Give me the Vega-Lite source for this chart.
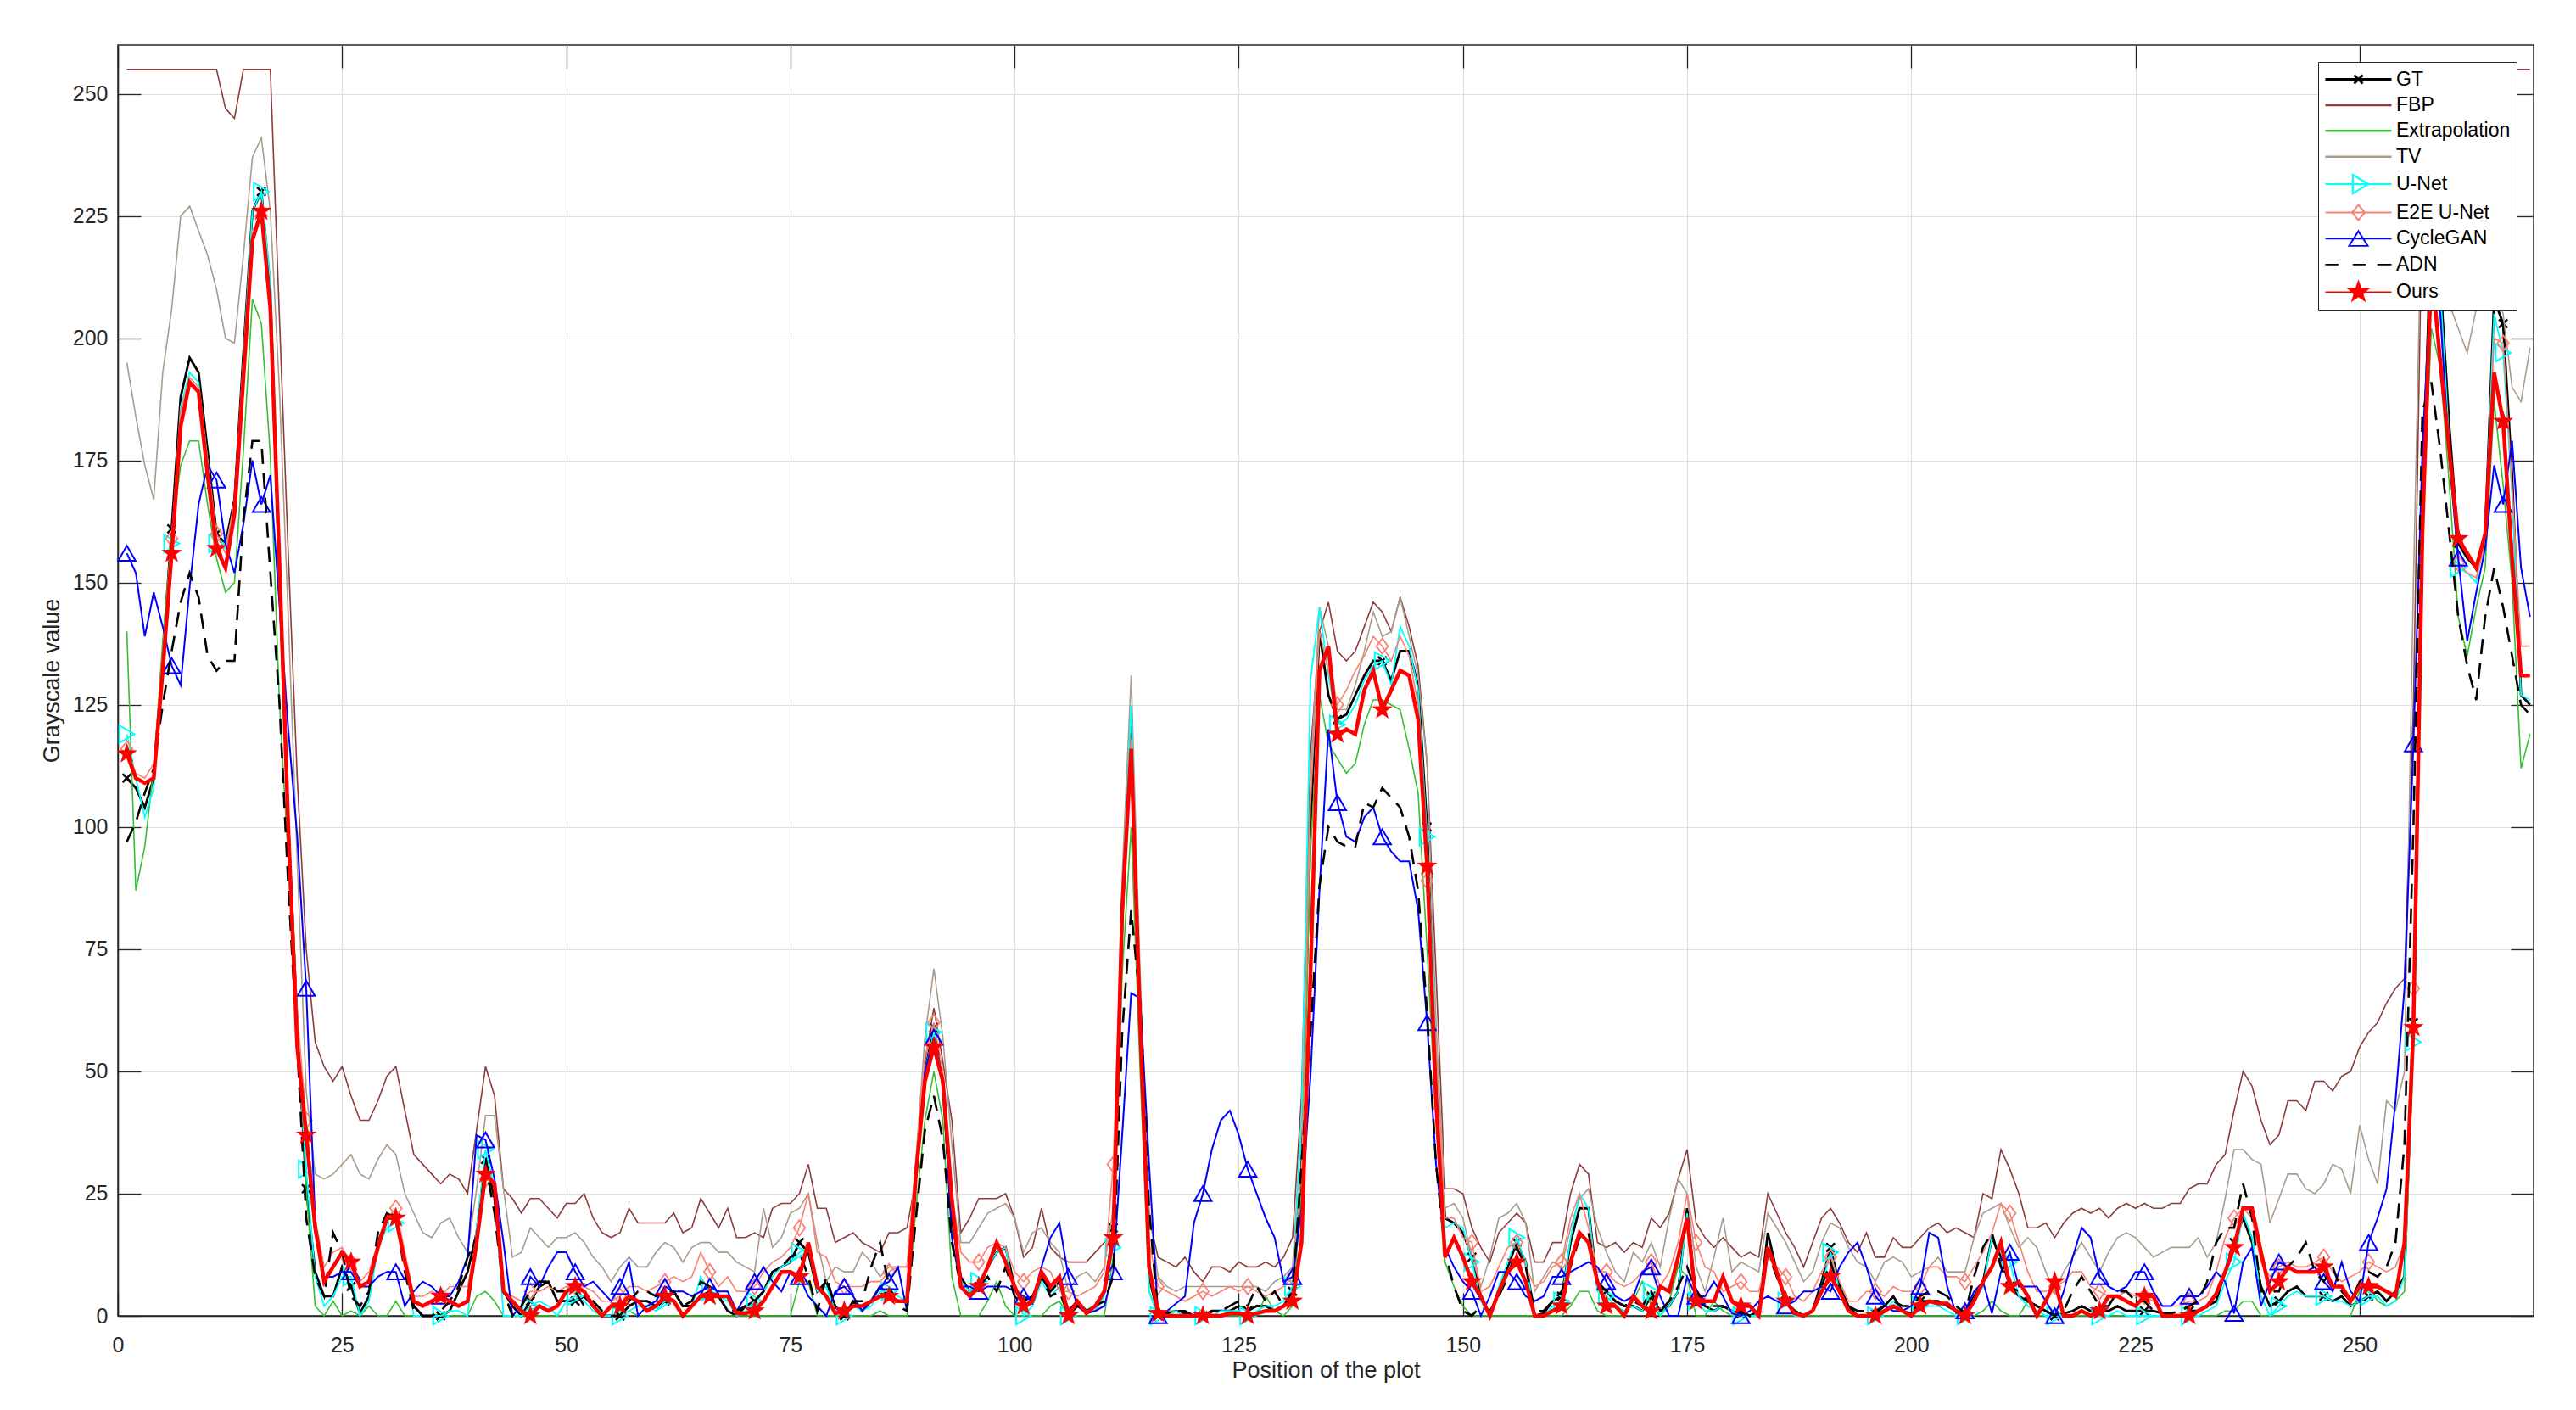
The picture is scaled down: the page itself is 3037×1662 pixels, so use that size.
{
"$schema": "https://vega.github.io/schema/vega-lite/v6.json",
"width": 2848, "height": 1498,
"autosize": {"type": "pad"},
"padding": {"left": 47, "top": 52, "right": 10, "bottom": 10},
"background": "white",
"config": {"view": {"stroke": "#262626", "strokeWidth": 1.5}, "font": "Liberation Sans"},
"data": {"values": [
{"x":1,"GT":110,"FBP":255,"Extrapolation":140,"TV":195,"U-Net":119,"E2E U-Net":116,"CycleGAN":156,"ADN":97,"Ours":115},
{"x":2,"GT":108,"FBP":255,"Extrapolation":87,"TV":184,"U-Net":110,"E2E U-Net":111,"CycleGAN":152,"ADN":101,"Ours":110},
{"x":3,"GT":104,"FBP":255,"Extrapolation":96,"TV":174,"U-Net":102,"E2E U-Net":110,"CycleGAN":139,"ADN":107,"Ours":109},
{"x":4,"GT":110,"FBP":255,"Extrapolation":112,"TV":167,"U-Net":108,"E2E U-Net":113,"CycleGAN":148,"ADN":112,"Ours":110},
{"x":5,"GT":135,"FBP":255,"Extrapolation":138,"TV":193,"U-Net":135,"E2E U-Net":135,"CycleGAN":141,"ADN":125,"Ours":132},
{"x":6,"GT":161,"FBP":255,"Extrapolation":160,"TV":206,"U-Net":158,"E2E U-Net":159,"CycleGAN":133,"ADN":136,"Ours":156},
{"x":7,"GT":188,"FBP":255,"Extrapolation":174,"TV":225,"U-Net":186,"E2E U-Net":185,"CycleGAN":129,"ADN":146,"Ours":182},
{"x":8,"GT":196,"FBP":255,"Extrapolation":179,"TV":227,"U-Net":193,"E2E U-Net":192,"CycleGAN":149,"ADN":152,"Ours":191},
{"x":9,"GT":193,"FBP":255,"Extrapolation":179,"TV":222,"U-Net":191,"E2E U-Net":190,"CycleGAN":166,"ADN":147,"Ours":189},
{"x":10,"GT":177,"FBP":255,"Extrapolation":166,"TV":217,"U-Net":175,"E2E U-Net":175,"CycleGAN":174,"ADN":135,"Ours":172},
{"x":11,"GT":160,"FBP":255,"Extrapolation":155,"TV":210,"U-Net":158,"E2E U-Net":160,"CycleGAN":171,"ADN":132,"Ours":157},
{"x":12,"GT":158,"FBP":247,"Extrapolation":148,"TV":200,"U-Net":157,"E2E U-Net":156,"CycleGAN":158,"ADN":134,"Ours":153},
{"x":13,"GT":167,"FBP":245,"Extrapolation":150,"TV":199,"U-Net":166,"E2E U-Net":167,"CycleGAN":152,"ADN":134,"Ours":164},
{"x":14,"GT":197,"FBP":255,"Extrapolation":177,"TV":217,"U-Net":196,"E2E U-Net":195,"CycleGAN":162,"ADN":163,"Ours":192},
{"x":15,"GT":226,"FBP":255,"Extrapolation":208,"TV":237,"U-Net":226,"E2E U-Net":222,"CycleGAN":175,"ADN":179,"Ours":220},
{"x":16,"GT":230,"FBP":255,"Extrapolation":203,"TV":241,"U-Net":230,"E2E U-Net":225,"CycleGAN":166,"ADN":179,"Ours":226},
{"x":17,"GT":210,"FBP":255,"Extrapolation":176,"TV":226,"U-Net":212,"E2E U-Net":208,"CycleGAN":172,"ADN":152,"Ours":206},
{"x":18,"GT":151,"FBP":205,"Extrapolation":126,"TV":190,"U-Net":152,"E2E U-Net":156,"CycleGAN":146,"ADN":126,"Ours":155},
{"x":19,"GT":101,"FBP":156,"Extrapolation":93,"TV":143,"U-Net":100,"E2E U-Net":103,"CycleGAN":120,"ADN":88,"Ours":100},
{"x":20,"GT":60,"FBP":110,"Extrapolation":60,"TV":93,"U-Net":56,"E2E U-Net":62,"CycleGAN":98,"ADN":55,"Ours":55},
{"x":21,"GT":26,"FBP":75,"Extrapolation":26,"TV":46,"U-Net":30,"E2E U-Net":40,"CycleGAN":67,"ADN":20,"Ours":37},
{"x":22,"GT":9,"FBP":56,"Extrapolation":2,"TV":29,"U-Net":8,"E2E U-Net":20,"CycleGAN":19,"ADN":8,"Ours":18},
{"x":23,"GT":4,"FBP":51,"Extrapolation":0,"TV":28,"U-Net":2,"E2E U-Net":10,"CycleGAN":8,"ADN":4,"Ours":7},
{"x":24,"GT":4,"FBP":48,"Extrapolation":3,"TV":29,"U-Net":4,"E2E U-Net":13,"CycleGAN":8,"ADN":17,"Ours":10},
{"x":25,"GT":10,"FBP":51,"Extrapolation":0,"TV":31,"U-Net":8,"E2E U-Net":14,"CycleGAN":9,"ADN":13,"Ours":13},
{"x":26,"GT":6,"FBP":45,"Extrapolation":1,"TV":33,"U-Net":8,"E2E U-Net":11,"CycleGAN":9,"ADN":4,"Ours":11},
{"x":27,"GT":0.5,"FBP":40,"Extrapolation":0,"TV":29,"U-Net":0,"E2E U-Net":7,"CycleGAN":6,"ADN":2,"Ours":6},
{"x":28,"GT":4,"FBP":40,"Extrapolation":2,"TV":28,"U-Net":3,"E2E U-Net":9,"CycleGAN":6,"ADN":5,"Ours":7},
{"x":29,"GT":15,"FBP":44,"Extrapolation":0,"TV":32,"U-Net":14,"E2E U-Net":15,"CycleGAN":8,"ADN":17,"Ours":14},
{"x":30,"GT":20,"FBP":49,"Extrapolation":0,"TV":35,"U-Net":18,"E2E U-Net":20,"CycleGAN":9,"ADN":21,"Ours":20},
{"x":31,"GT":20,"FBP":51,"Extrapolation":3,"TV":33,"U-Net":19,"E2E U-Net":22,"CycleGAN":9,"ADN":20,"Ours":20},
{"x":32,"GT":12,"FBP":42,"Extrapolation":0,"TV":25,"U-Net":11,"E2E U-Net":13,"CycleGAN":2,"ADN":9,"Ours":11},
{"x":33,"GT":2,"FBP":33,"Extrapolation":0,"TV":21,"U-Net":0,"E2E U-Net":4,"CycleGAN":5,"ADN":1,"Ours":3},
{"x":34,"GT":0,"FBP":31,"Extrapolation":0,"TV":17,"U-Net":0,"E2E U-Net":4,"CycleGAN":7,"ADN":0,"Ours":2},
{"x":35,"GT":0,"FBP":29,"Extrapolation":0,"TV":16,"U-Net":0,"E2E U-Net":5,"CycleGAN":6,"ADN":0,"Ours":3},
{"x":36,"GT":0,"FBP":27,"Extrapolation":0,"TV":19,"U-Net":0,"E2E U-Net":4,"CycleGAN":4,"ADN":1,"Ours":4},
{"x":37,"GT":1,"FBP":29,"Extrapolation":0,"TV":20,"U-Net":1,"E2E U-Net":6,"CycleGAN":4,"ADN":3,"Ours":3},
{"x":38,"GT":5,"FBP":28,"Extrapolation":0,"TV":16,"U-Net":1,"E2E U-Net":6,"CycleGAN":7,"ADN":6,"Ours":2},
{"x":39,"GT":9,"FBP":25,"Extrapolation":0,"TV":13,"U-Net":0,"E2E U-Net":6,"CycleGAN":12,"ADN":12,"Ours":3},
{"x":40,"GT":17,"FBP":38,"Extrapolation":4,"TV":26,"U-Net":18,"E2E U-Net":15,"CycleGAN":37,"ADN":16,"Ours":15},
{"x":41,"GT":32,"FBP":51,"Extrapolation":5,"TV":41,"U-Net":34,"E2E U-Net":28,"CycleGAN":36,"ADN":31,"Ours":29},
{"x":42,"GT":24,"FBP":45,"Extrapolation":3,"TV":41,"U-Net":26,"E2E U-Net":27,"CycleGAN":28,"ADN":21,"Ours":27},
{"x":43,"GT":5,"FBP":26,"Extrapolation":0,"TV":26,"U-Net":0,"E2E U-Net":5,"CycleGAN":15,"ADN":5,"Ours":5},
{"x":44,"GT":2,"FBP":24,"Extrapolation":0,"TV":12,"U-Net":0,"E2E U-Net":4,"CycleGAN":0,"ADN":0,"Ours":3},
{"x":45,"GT":0,"FBP":21,"Extrapolation":0,"TV":13,"U-Net":0,"E2E U-Net":3,"CycleGAN":2,"ADN":2,"Ours":1},
{"x":46,"GT":3,"FBP":24,"Extrapolation":0,"TV":18,"U-Net":2,"E2E U-Net":5,"CycleGAN":8,"ADN":5,"Ours":0},
{"x":47,"GT":6,"FBP":24,"Extrapolation":0,"TV":16,"U-Net":3,"E2E U-Net":5,"CycleGAN":6,"ADN":7,"Ours":2},
{"x":48,"GT":7,"FBP":22,"Extrapolation":0,"TV":14,"U-Net":2,"E2E U-Net":6,"CycleGAN":10,"ADN":7,"Ours":1},
{"x":49,"GT":3,"FBP":20,"Extrapolation":0,"TV":16,"U-Net":0,"E2E U-Net":5,"CycleGAN":13,"ADN":5,"Ours":2},
{"x":50,"GT":3,"FBP":23,"Extrapolation":0,"TV":16,"U-Net":3,"E2E U-Net":6,"CycleGAN":13,"ADN":5,"Ours":5},
{"x":51,"GT":3,"FBP":23,"Extrapolation":0,"TV":17,"U-Net":4,"E2E U-Net":6,"CycleGAN":9,"ADN":5,"Ours":6},
{"x":52,"GT":4,"FBP":25,"Extrapolation":0,"TV":15,"U-Net":3,"E2E U-Net":6,"CycleGAN":6,"ADN":2,"Ours":5},
{"x":53,"GT":2,"FBP":20,"Extrapolation":0,"TV":12,"U-Net":1,"E2E U-Net":5,"CycleGAN":7,"ADN":3,"Ours":2},
{"x":54,"GT":0,"FBP":17,"Extrapolation":0,"TV":10,"U-Net":0,"E2E U-Net":3,"CycleGAN":5,"ADN":1,"Ours":0},
{"x":55,"GT":0,"FBP":16,"Extrapolation":0,"TV":7,"U-Net":0,"E2E U-Net":3,"CycleGAN":3,"ADN":0,"Ours":2},
{"x":56,"GT":0,"FBP":17,"Extrapolation":0,"TV":10,"U-Net":0,"E2E U-Net":4,"CycleGAN":6,"ADN":0,"Ours":2},
{"x":57,"GT":2,"FBP":22,"Extrapolation":1,"TV":12,"U-Net":1,"E2E U-Net":6,"CycleGAN":11,"ADN":3,"Ours":4},
{"x":58,"GT":3,"FBP":19,"Extrapolation":0,"TV":10,"U-Net":2,"E2E U-Net":6,"CycleGAN":0,"ADN":5,"Ours":3},
{"x":59,"GT":3,"FBP":19,"Extrapolation":0,"TV":10,"U-Net":2,"E2E U-Net":5,"CycleGAN":2,"ADN":5,"Ours":1},
{"x":60,"GT":2,"FBP":19,"Extrapolation":0,"TV":13,"U-Net":1,"E2E U-Net":6,"CycleGAN":3,"ADN":4,"Ours":2},
{"x":61,"GT":3,"FBP":19,"Extrapolation":0,"TV":15,"U-Net":3,"E2E U-Net":7,"CycleGAN":6,"ADN":5,"Ours":4},
{"x":62,"GT":5,"FBP":21,"Extrapolation":0,"TV":14,"U-Net":3,"E2E U-Net":8,"CycleGAN":5,"ADN":5,"Ours":3},
{"x":63,"GT":2,"FBP":17,"Extrapolation":0,"TV":11,"U-Net":0,"E2E U-Net":7,"CycleGAN":5,"ADN":2,"Ours":0},
{"x":64,"GT":2,"FBP":18,"Extrapolation":0,"TV":14,"U-Net":2,"E2E U-Net":8,"CycleGAN":4,"ADN":3,"Ours":2},
{"x":65,"GT":4,"FBP":24,"Extrapolation":0,"TV":15,"U-Net":8,"E2E U-Net":13,"CycleGAN":5,"ADN":7,"Ours":4},
{"x":66,"GT":5,"FBP":21,"Extrapolation":0,"TV":15,"U-Net":5,"E2E U-Net":9,"CycleGAN":6,"ADN":6,"Ours":4},
{"x":67,"GT":4,"FBP":18,"Extrapolation":0,"TV":13,"U-Net":4,"E2E U-Net":6,"CycleGAN":5,"ADN":4,"Ours":4},
{"x":68,"GT":1,"FBP":22,"Extrapolation":0,"TV":13,"U-Net":3,"E2E U-Net":8,"CycleGAN":5,"ADN":1,"Ours":4},
{"x":69,"GT":0,"FBP":16,"Extrapolation":0,"TV":11,"U-Net":0,"E2E U-Net":5,"CycleGAN":1,"ADN":1,"Ours":0.5},
{"x":70,"GT":2,"FBP":16,"Extrapolation":0,"TV":10,"U-Net":1,"E2E U-Net":5,"CycleGAN":4,"ADN":2,"Ours":0.5},
{"x":71,"GT":3,"FBP":17,"Extrapolation":0,"TV":9,"U-Net":3,"E2E U-Net":6,"CycleGAN":7,"ADN":3,"Ours":1},
{"x":72,"GT":5,"FBP":16,"Extrapolation":0,"TV":22,"U-Net":5,"E2E U-Net":9,"CycleGAN":10,"ADN":5,"Ours":3},
{"x":73,"GT":9,"FBP":22,"Extrapolation":0,"TV":14,"U-Net":8,"E2E U-Net":11,"CycleGAN":7,"ADN":9,"Ours":6},
{"x":74,"GT":10,"FBP":23,"Extrapolation":0,"TV":16,"U-Net":10,"E2E U-Net":12,"CycleGAN":5,"ADN":10,"Ours":9},
{"x":75,"GT":11,"FBP":23,"Extrapolation":0,"TV":21,"U-Net":11,"E2E U-Net":14,"CycleGAN":9,"ADN":12,"Ours":9},
{"x":76,"GT":15,"FBP":25,"Extrapolation":7,"TV":22,"U-Net":13,"E2E U-Net":18,"CycleGAN":8,"ADN":13,"Ours":8},
{"x":77,"GT":13,"FBP":31,"Extrapolation":7,"TV":25,"U-Net":14,"E2E U-Net":25,"CycleGAN":4,"ADN":8,"Ours":15},
{"x":78,"GT":5,"FBP":22,"Extrapolation":0,"TV":15,"U-Net":5,"E2E U-Net":13,"CycleGAN":2,"ADN":1,"Ours":6},
{"x":79,"GT":7,"FBP":22,"Extrapolation":0,"TV":7,"U-Net":6,"E2E U-Net":12,"CycleGAN":0,"ADN":8,"Ours":4},
{"x":80,"GT":2,"FBP":15,"Extrapolation":0,"TV":10,"U-Net":1,"E2E U-Net":7,"CycleGAN":5,"ADN":2,"Ours":0.5},
{"x":81,"GT":0,"FBP":16,"Extrapolation":0,"TV":9,"U-Net":0,"E2E U-Net":6,"CycleGAN":6,"ADN":0,"Ours":1},
{"x":82,"GT":3,"FBP":17,"Extrapolation":0,"TV":9,"U-Net":2,"E2E U-Net":6,"CycleGAN":4,"ADN":3,"Ours":2},
{"x":83,"GT":1,"FBP":15,"Extrapolation":0,"TV":13,"U-Net":1,"E2E U-Net":6,"CycleGAN":1,"ADN":3,"Ours":2},
{"x":84,"GT":3,"FBP":14,"Extrapolation":0,"TV":11,"U-Net":2,"E2E U-Net":7,"CycleGAN":3,"ADN":10,"Ours":3},
{"x":85,"GT":6,"FBP":13,"Extrapolation":1,"TV":8,"U-Net":5,"E2E U-Net":7,"CycleGAN":6,"ADN":15,"Ours":4},
{"x":86,"GT":4,"FBP":17,"Extrapolation":0,"TV":10,"U-Net":5,"E2E U-Net":9,"CycleGAN":7,"ADN":6,"Ours":4},
{"x":87,"GT":3,"FBP":17,"Extrapolation":0,"TV":10,"U-Net":4,"E2E U-Net":10,"CycleGAN":10,"ADN":2,"Ours":3},
{"x":88,"GT":3,"FBP":18,"Extrapolation":0,"TV":10,"U-Net":3,"E2E U-Net":10,"CycleGAN":1,"ADN":1,"Ours":3},
{"x":89,"GT":30,"FBP":28,"Extrapolation":22,"TV":32,"U-Net":28,"E2E U-Net":32,"CycleGAN":28,"ADN":20,"Ours":29},
{"x":90,"GT":50,"FBP":52,"Extrapolation":40,"TV":57,"U-Net":50,"E2E U-Net":53,"CycleGAN":50,"ADN":38,"Ours":48},
{"x":91,"GT":59,"FBP":63,"Extrapolation":50,"TV":71,"U-Net":58,"E2E U-Net":60,"CycleGAN":57,"ADN":45,"Ours":55},
{"x":92,"GT":47,"FBP":52,"Extrapolation":40,"TV":57,"U-Net":48,"E2E U-Net":50,"CycleGAN":48,"ADN":36,"Ours":48},
{"x":93,"GT":20,"FBP":40,"Extrapolation":8,"TV":35,"U-Net":22,"E2E U-Net":25,"CycleGAN":16,"ADN":15,"Ours":24},
{"x":94,"GT":8,"FBP":17,"Extrapolation":0,"TV":15,"U-Net":7,"E2E U-Net":13,"CycleGAN":6,"ADN":6,"Ours":6},
{"x":95,"GT":5,"FBP":20,"Extrapolation":0,"TV":15,"U-Net":5,"E2E U-Net":11,"CycleGAN":6,"ADN":4,"Ours":4},
{"x":96,"GT":6,"FBP":24,"Extrapolation":0,"TV":18,"U-Net":7,"E2E U-Net":11,"CycleGAN":5,"ADN":6,"Ours":6},
{"x":97,"GT":10,"FBP":24,"Extrapolation":3,"TV":21,"U-Net":10,"E2E U-Net":14,"CycleGAN":6,"ADN":8,"Ours":10},
{"x":98,"GT":13,"FBP":24,"Extrapolation":7,"TV":22,"U-Net":13,"E2E U-Net":15,"CycleGAN":6,"ADN":5,"Ours":15},
{"x":99,"GT":14,"FBP":25,"Extrapolation":2,"TV":23,"U-Net":14,"E2E U-Net":14,"CycleGAN":6,"ADN":10,"Ours":11},
{"x":100,"GT":6,"FBP":20,"Extrapolation":0,"TV":20,"U-Net":4,"E2E U-Net":9,"CycleGAN":5,"ADN":4,"Ours":6},
{"x":101,"GT":3,"FBP":12,"Extrapolation":0,"TV":13,"U-Net":0,"E2E U-Net":7,"CycleGAN":4,"ADN":2,"Ours":2},
{"x":102,"GT":4,"FBP":14,"Extrapolation":0,"TV":17,"U-Net":2,"E2E U-Net":9,"CycleGAN":3,"ADN":3,"Ours":3},
{"x":103,"GT":8,"FBP":22,"Extrapolation":0,"TV":18,"U-Net":7,"E2E U-Net":10,"CycleGAN":10,"ADN":8,"Ours":9},
{"x":104,"GT":5,"FBP":14,"Extrapolation":2,"TV":15,"U-Net":4,"E2E U-Net":9,"CycleGAN":16,"ADN":4,"Ours":6},
{"x":105,"GT":7,"FBP":12,"Extrapolation":3,"TV":13,"U-Net":6,"E2E U-Net":5,"CycleGAN":19,"ADN":5,"Ours":8},
{"x":106,"GT":1,"FBP":11,"Extrapolation":0,"TV":5,"U-Net":0,"E2E U-Net":5,"CycleGAN":8,"ADN":0,"Ours":0},
{"x":107,"GT":3,"FBP":11,"Extrapolation":0,"TV":8,"U-Net":2,"E2E U-Net":4,"CycleGAN":2,"ADN":2,"Ours":3},
{"x":108,"GT":1,"FBP":11,"Extrapolation":0,"TV":9,"U-Net":1,"E2E U-Net":5,"CycleGAN":0.5,"ADN":1,"Ours":0.5},
{"x":109,"GT":2,"FBP":13,"Extrapolation":0,"TV":7,"U-Net":1,"E2E U-Net":6,"CycleGAN":1,"ADN":2,"Ours":2},
{"x":110,"GT":5,"FBP":15,"Extrapolation":0,"TV":10,"U-Net":4,"E2E U-Net":9,"CycleGAN":2,"ADN":3,"Ours":5},
{"x":111,"GT":18,"FBP":17,"Extrapolation":12,"TV":22,"U-Net":14,"E2E U-Net":31,"CycleGAN":9,"ADN":8,"Ours":16},
{"x":112,"GT":80,"FBP":85,"Extrapolation":70,"TV":90,"U-Net":85,"E2E U-Net":85,"CycleGAN":37,"ADN":58,"Ours":83},
{"x":113,"GT":122,"FBP":120,"Extrapolation":100,"TV":131,"U-Net":125,"E2E U-Net":118,"CycleGAN":66,"ADN":83,"Ours":116},
{"x":114,"GT":60,"FBP":65,"Extrapolation":50,"TV":70,"U-Net":60,"E2E U-Net":62,"CycleGAN":65,"ADN":64,"Ours":60},
{"x":115,"GT":8,"FBP":20,"Extrapolation":5,"TV":22,"U-Net":5,"E2E U-Net":15,"CycleGAN":31,"ADN":22,"Ours":10},
{"x":116,"GT":0,"FBP":12,"Extrapolation":0,"TV":8,"U-Net":0,"E2E U-Net":6,"CycleGAN":0,"ADN":0,"Ours":0.5},
{"x":117,"GT":0.5,"FBP":11,"Extrapolation":1,"TV":6,"U-Net":0,"E2E U-Net":5,"CycleGAN":1,"ADN":0,"Ours":0},
{"x":118,"GT":1,"FBP":10,"Extrapolation":1,"TV":5,"U-Net":1,"E2E U-Net":4,"CycleGAN":2.5,"ADN":1,"Ours":0},
{"x":119,"GT":0.5,"FBP":12,"Extrapolation":0,"TV":6,"U-Net":0,"E2E U-Net":3,"CycleGAN":4,"ADN":1,"Ours":0},
{"x":120,"GT":0,"FBP":9,"Extrapolation":0,"TV":6,"U-Net":0,"E2E U-Net":4,"CycleGAN":19,"ADN":0,"Ours":0},
{"x":121,"GT":0,"FBP":7,"Extrapolation":0,"TV":6,"U-Net":0,"E2E U-Net":5,"CycleGAN":25,"ADN":0,"Ours":0},
{"x":122,"GT":1,"FBP":10,"Extrapolation":0,"TV":6,"U-Net":0,"E2E U-Net":4,"CycleGAN":34,"ADN":1,"Ours":0},
{"x":123,"GT":1,"FBP":10,"Extrapolation":0,"TV":6,"U-Net":1,"E2E U-Net":5,"CycleGAN":40,"ADN":1,"Ours":0},
{"x":124,"GT":1,"FBP":9,"Extrapolation":0,"TV":6,"U-Net":1,"E2E U-Net":6,"CycleGAN":42,"ADN":2,"Ours":0.5},
{"x":125,"GT":2,"FBP":11,"Extrapolation":0,"TV":6,"U-Net":1,"E2E U-Net":5,"CycleGAN":37,"ADN":3,"Ours":0.5},
{"x":126,"GT":1,"FBP":10,"Extrapolation":0,"TV":6,"U-Net":0,"E2E U-Net":6,"CycleGAN":30,"ADN":2,"Ours":0},
{"x":127,"GT":2,"FBP":10,"Extrapolation":0,"TV":6,"U-Net":1,"E2E U-Net":5,"CycleGAN":25,"ADN":6,"Ours":0.5},
{"x":128,"GT":2,"FBP":11,"Extrapolation":4,"TV":5,"U-Net":2,"E2E U-Net":4,"CycleGAN":20,"ADN":3,"Ours":1},
{"x":129,"GT":1,"FBP":10,"Extrapolation":1,"TV":7,"U-Net":2,"E2E U-Net":5,"CycleGAN":16,"ADN":5,"Ours":1},
{"x":130,"GT":2,"FBP":12,"Extrapolation":0,"TV":8,"U-Net":3,"E2E U-Net":6,"CycleGAN":7,"ADN":2,"Ours":2},
{"x":131,"GT":5,"FBP":16,"Extrapolation":2,"TV":10,"U-Net":6,"E2E U-Net":8,"CycleGAN":8,"ADN":4,"Ours":3},
{"x":132,"GT":30,"FBP":45,"Extrapolation":25,"TV":40,"U-Net":40,"E2E U-Net":30,"CycleGAN":22,"ADN":31,"Ours":15},
{"x":133,"GT":100,"FBP":115,"Extrapolation":95,"TV":110,"U-Net":130,"E2E U-Net":105,"CycleGAN":49,"ADN":58,"Ours":70},
{"x":134,"GT":140,"FBP":140,"Extrapolation":127,"TV":145,"U-Net":145,"E2E U-Net":140,"CycleGAN":87,"ADN":88,"Ours":132},
{"x":135,"GT":127,"FBP":146,"Extrapolation":117,"TV":137,"U-Net":131,"E2E U-Net":132,"CycleGAN":120,"ADN":100,"Ours":137},
{"x":136,"GT":122,"FBP":136,"Extrapolation":114,"TV":124,"U-Net":121,"E2E U-Net":125,"CycleGAN":105,"ADN":97,"Ours":119},
{"x":137,"GT":123,"FBP":134,"Extrapolation":111,"TV":124,"U-Net":122,"E2E U-Net":128,"CycleGAN":98,"ADN":96,"Ours":120},
{"x":138,"GT":127,"FBP":136,"Extrapolation":113,"TV":129,"U-Net":125,"E2E U-Net":132,"CycleGAN":97,"ADN":96,"Ours":119},
{"x":139,"GT":131,"FBP":141,"Extrapolation":121,"TV":136,"U-Net":130,"E2E U-Net":135,"CycleGAN":102,"ADN":105,"Ours":128},
{"x":140,"GT":134,"FBP":146,"Extrapolation":126,"TV":144,"U-Net":133,"E2E U-Net":139,"CycleGAN":104,"ADN":104,"Ours":132},
{"x":141,"GT":134,"FBP":144,"Extrapolation":126,"TV":139,"U-Net":134,"E2E U-Net":137,"CycleGAN":98,"ADN":108,"Ours":124},
{"x":142,"GT":130,"FBP":140,"Extrapolation":125,"TV":140,"U-Net":129,"E2E U-Net":134,"CycleGAN":95,"ADN":106,"Ours":128},
{"x":143,"GT":136,"FBP":147,"Extrapolation":124,"TV":147,"U-Net":141,"E2E U-Net":139,"CycleGAN":93,"ADN":104,"Ours":132},
{"x":144,"GT":136,"FBP":141,"Extrapolation":116,"TV":139,"U-Net":137,"E2E U-Net":135,"CycleGAN":93,"ADN":98,"Ours":131},
{"x":145,"GT":129,"FBP":133,"Extrapolation":107,"TV":131,"U-Net":128,"E2E U-Net":125,"CycleGAN":83,"ADN":87,"Ours":122},
{"x":146,"GT":100,"FBP":113,"Extrapolation":75,"TV":113,"U-Net":98,"E2E U-Net":89,"CycleGAN":60,"ADN":62,"Ours":92},
{"x":147,"GT":50,"FBP":70,"Extrapolation":40,"TV":60,"U-Net":55,"E2E U-Net":55,"CycleGAN":31,"ADN":31,"Ours":44},
{"x":148,"GT":20,"FBP":26,"Extrapolation":11,"TV":22,"U-Net":18,"E2E U-Net":20,"CycleGAN":14,"ADN":13,"Ours":12},
{"x":149,"GT":19,"FBP":26,"Extrapolation":6,"TV":23,"U-Net":19,"E2E U-Net":20,"CycleGAN":10,"ADN":6,"Ours":16},
{"x":150,"GT":17,"FBP":25,"Extrapolation":2,"TV":20,"U-Net":18,"E2E U-Net":16,"CycleGAN":7,"ADN":1,"Ours":12},
{"x":151,"GT":12,"FBP":18,"Extrapolation":0,"TV":12,"U-Net":11,"E2E U-Net":15,"CycleGAN":5,"ADN":0,"Ours":7},
{"x":152,"GT":4,"FBP":14,"Extrapolation":0,"TV":6,"U-Net":3,"E2E U-Net":5,"CycleGAN":0,"ADN":2,"Ours":4},
{"x":153,"GT":0,"FBP":11,"Extrapolation":0,"TV":12,"U-Net":0,"E2E U-Net":6,"CycleGAN":4,"ADN":1,"Ours":0},
{"x":154,"GT":5,"FBP":17,"Extrapolation":0,"TV":20,"U-Net":6,"E2E U-Net":10,"CycleGAN":9,"ADN":4,"Ours":5},
{"x":155,"GT":10,"FBP":19,"Extrapolation":0,"TV":21,"U-Net":11,"E2E U-Net":14,"CycleGAN":9,"ADN":8,"Ours":9},
{"x":156,"GT":15,"FBP":21,"Extrapolation":0,"TV":23,"U-Net":16,"E2E U-Net":15,"CycleGAN":7,"ADN":14,"Ours":11},
{"x":157,"GT":11,"FBP":19,"Extrapolation":0,"TV":19,"U-Net":11,"E2E U-Net":10,"CycleGAN":4,"ADN":10,"Ours":7},
{"x":158,"GT":0,"FBP":11,"Extrapolation":0,"TV":5,"U-Net":0,"E2E U-Net":6,"CycleGAN":3,"ADN":1,"Ours":0},
{"x":159,"GT":0.5,"FBP":11,"Extrapolation":0,"TV":8,"U-Net":0,"E2E U-Net":7,"CycleGAN":4,"ADN":1,"Ours":0},
{"x":160,"GT":3,"FBP":15,"Extrapolation":0,"TV":11,"U-Net":2,"E2E U-Net":10,"CycleGAN":8,"ADN":3,"Ours":1},
{"x":161,"GT":4,"FBP":15,"Extrapolation":0,"TV":10,"U-Net":3,"E2E U-Net":11,"CycleGAN":8,"ADN":5,"Ours":2},
{"x":162,"GT":15,"FBP":25,"Extrapolation":2,"TV":18,"U-Net":16,"E2E U-Net":20,"CycleGAN":9,"ADN":10,"Ours":11},
{"x":163,"GT":22,"FBP":31,"Extrapolation":5,"TV":24,"U-Net":25,"E2E U-Net":25,"CycleGAN":10,"ADN":16,"Ours":17},
{"x":164,"GT":22,"FBP":29,"Extrapolation":5,"TV":26,"U-Net":22,"E2E U-Net":18,"CycleGAN":11,"ADN":17,"Ours":15},
{"x":165,"GT":6,"FBP":15,"Extrapolation":1,"TV":18,"U-Net":5,"E2E U-Net":9,"CycleGAN":10,"ADN":7,"Ours":7},
{"x":166,"GT":5,"FBP":14,"Extrapolation":0,"TV":13,"U-Net":4,"E2E U-Net":9,"CycleGAN":7,"ADN":5,"Ours":2},
{"x":167,"GT":3,"FBP":15,"Extrapolation":0,"TV":9,"U-Net":2,"E2E U-Net":7,"CycleGAN":4,"ADN":3,"Ours":2},
{"x":168,"GT":2,"FBP":13,"Extrapolation":0,"TV":7,"U-Net":1,"E2E U-Net":6,"CycleGAN":3,"ADN":2,"Ours":0},
{"x":169,"GT":2,"FBP":15,"Extrapolation":3,"TV":13,"U-Net":2,"E2E U-Net":7,"CycleGAN":4,"ADN":3,"Ours":4},
{"x":170,"GT":1,"FBP":14,"Extrapolation":7,"TV":11,"U-Net":1,"E2E U-Net":9,"CycleGAN":9,"ADN":2,"Ours":2},
{"x":171,"GT":4,"FBP":20,"Extrapolation":2,"TV":15,"U-Net":5,"E2E U-Net":11,"CycleGAN":10,"ADN":5,"Ours":1},
{"x":172,"GT":1,"FBP":18,"Extrapolation":0,"TV":10,"U-Net":0,"E2E U-Net":6,"CycleGAN":4,"ADN":1,"Ours":6},
{"x":173,"GT":2,"FBP":21,"Extrapolation":3,"TV":20,"U-Net":2,"E2E U-Net":9,"CycleGAN":0,"ADN":3,"Ours":5},
{"x":174,"GT":5,"FBP":28,"Extrapolation":10,"TV":28,"U-Net":5,"E2E U-Net":15,"CycleGAN":0,"ADN":6,"Ours":12},
{"x":175,"GT":22,"FBP":34,"Extrapolation":8,"TV":25,"U-Net":21,"E2E U-Net":25,"CycleGAN":8,"ADN":10,"Ours":20},
{"x":176,"GT":3,"FBP":19,"Extrapolation":0,"TV":10,"U-Net":3,"E2E U-Net":15,"CycleGAN":4,"ADN":5,"Ours":3},
{"x":177,"GT":2,"FBP":16,"Extrapolation":0,"TV":5,"U-Net":1,"E2E U-Net":10,"CycleGAN":4,"ADN":3,"Ours":3},
{"x":178,"GT":1,"FBP":14,"Extrapolation":3,"TV":12,"U-Net":1,"E2E U-Net":9,"CycleGAN":7,"ADN":2,"Ours":3},
{"x":179,"GT":2,"FBP":16,"Extrapolation":1,"TV":20,"U-Net":2,"E2E U-Net":5,"CycleGAN":4,"ADN":2,"Ours":8},
{"x":180,"GT":1,"FBP":14,"Extrapolation":0,"TV":9,"U-Net":1,"E2E U-Net":6,"CycleGAN":0.5,"ADN":1,"Ours":3},
{"x":181,"GT":0.5,"FBP":12,"Extrapolation":0,"TV":11,"U-Net":0,"E2E U-Net":7,"CycleGAN":0,"ADN":1,"Ours":2},
{"x":182,"GT":0,"FBP":13,"Extrapolation":0,"TV":10,"U-Net":0,"E2E U-Net":5,"CycleGAN":1,"ADN":0,"Ours":2},
{"x":183,"GT":1,"FBP":12,"Extrapolation":0,"TV":9,"U-Net":0,"E2E U-Net":5,"CycleGAN":3,"ADN":1,"Ours":0},
{"x":184,"GT":17,"FBP":25,"Extrapolation":0,"TV":21,"U-Net":14,"E2E U-Net":12,"CycleGAN":4,"ADN":13,"Ours":14},
{"x":185,"GT":9,"FBP":21,"Extrapolation":0,"TV":18,"U-Net":8,"E2E U-Net":10,"CycleGAN":3,"ADN":8,"Ours":9},
{"x":186,"GT":3,"FBP":17,"Extrapolation":0,"TV":15,"U-Net":3,"E2E U-Net":8,"CycleGAN":2,"ADN":3,"Ours":3},
{"x":187,"GT":1,"FBP":14,"Extrapolation":0,"TV":11,"U-Net":0,"E2E U-Net":4,"CycleGAN":3,"ADN":1,"Ours":0.5},
{"x":188,"GT":0,"FBP":10,"Extrapolation":0,"TV":7,"U-Net":0,"E2E U-Net":3,"CycleGAN":5,"ADN":0,"Ours":0},
{"x":189,"GT":1,"FBP":15,"Extrapolation":0,"TV":9,"U-Net":1,"E2E U-Net":5,"CycleGAN":5,"ADN":1,"Ours":1},
{"x":190,"GT":7,"FBP":20,"Extrapolation":0,"TV":15,"U-Net":6,"E2E U-Net":9,"CycleGAN":6,"ADN":6,"Ours":5},
{"x":191,"GT":14,"FBP":22,"Extrapolation":0,"TV":19,"U-Net":13,"E2E U-Net":12,"CycleGAN":5,"ADN":11,"Ours":8},
{"x":192,"GT":6,"FBP":19,"Extrapolation":0,"TV":18,"U-Net":5,"E2E U-Net":7,"CycleGAN":10,"ADN":5,"Ours":5},
{"x":193,"GT":2,"FBP":15,"Extrapolation":0,"TV":14,"U-Net":1,"E2E U-Net":3,"CycleGAN":13,"ADN":2,"Ours":1},
{"x":194,"GT":0,"FBP":13,"Extrapolation":0,"TV":11,"U-Net":0,"E2E U-Net":3,"CycleGAN":15,"ADN":1,"Ours":0},
{"x":195,"GT":0,"FBP":17,"Extrapolation":0,"TV":10,"U-Net":0,"E2E U-Net":5,"CycleGAN":10,"ADN":1,"Ours":0},
{"x":196,"GT":0.5,"FBP":12,"Extrapolation":0,"TV":7,"U-Net":0,"E2E U-Net":5,"CycleGAN":4,"ADN":1,"Ours":0},
{"x":197,"GT":2,"FBP":12,"Extrapolation":0,"TV":11,"U-Net":1,"E2E U-Net":4,"CycleGAN":2,"ADN":2,"Ours":1},
{"x":198,"GT":4,"FBP":16,"Extrapolation":0,"TV":12,"U-Net":3,"E2E U-Net":6,"CycleGAN":1,"ADN":3,"Ours":2},
{"x":199,"GT":1,"FBP":14,"Extrapolation":0,"TV":11,"U-Net":1,"E2E U-Net":5,"CycleGAN":1,"ADN":2,"Ours":1},
{"x":200,"GT":0.5,"FBP":14,"Extrapolation":0,"TV":8,"U-Net":0,"E2E U-Net":5,"CycleGAN":2,"ADN":2,"Ours":0},
{"x":201,"GT":3,"FBP":16,"Extrapolation":0,"TV":9,"U-Net":2,"E2E U-Net":6,"CycleGAN":6,"ADN":4,"Ours":2},
{"x":202,"GT":3,"FBP":18,"Extrapolation":0,"TV":10,"U-Net":2,"E2E U-Net":10,"CycleGAN":17,"ADN":5,"Ours":3},
{"x":203,"GT":3,"FBP":19,"Extrapolation":0,"TV":12,"U-Net":2,"E2E U-Net":10,"CycleGAN":16,"ADN":5,"Ours":2.5},
{"x":204,"GT":2,"FBP":17,"Extrapolation":0,"TV":9,"U-Net":1,"E2E U-Net":8,"CycleGAN":6,"ADN":4,"Ours":2.5},
{"x":205,"GT":1,"FBP":18,"Extrapolation":0,"TV":9,"U-Net":0,"E2E U-Net":8,"CycleGAN":0.5,"ADN":2,"Ours":1},
{"x":206,"GT":0.5,"FBP":17,"Extrapolation":0,"TV":9,"U-Net":0,"E2E U-Net":7,"CycleGAN":1,"ADN":0.5,"Ours":0},
{"x":207,"GT":4,"FBP":16,"Extrapolation":0,"TV":16,"U-Net":3,"E2E U-Net":10,"CycleGAN":5,"ADN":8,"Ours":3},
{"x":208,"GT":7,"FBP":25,"Extrapolation":1,"TV":21,"U-Net":6,"E2E U-Net":13,"CycleGAN":7,"ADN":14,"Ours":7},
{"x":209,"GT":16,"FBP":24,"Extrapolation":3,"TV":22,"U-Net":16,"E2E U-Net":17,"CycleGAN":0.5,"ADN":17,"Ours":10},
{"x":210,"GT":12,"FBP":34,"Extrapolation":1,"TV":23,"U-Net":13,"E2E U-Net":23,"CycleGAN":9,"ADN":10,"Ours":15},
{"x":211,"GT":6,"FBP":30,"Extrapolation":0,"TV":18,"U-Net":11,"E2E U-Net":21,"CycleGAN":13,"ADN":6,"Ours":6},
{"x":212,"GT":4,"FBP":25,"Extrapolation":0,"TV":14,"U-Net":4,"E2E U-Net":15,"CycleGAN":6,"ADN":5,"Ours":7},
{"x":213,"GT":3,"FBP":18,"Extrapolation":3,"TV":16,"U-Net":2,"E2E U-Net":9,"CycleGAN":6,"ADN":3,"Ours":4},
{"x":214,"GT":2,"FBP":18,"Extrapolation":0,"TV":14,"U-Net":1,"E2E U-Net":5,"CycleGAN":6,"ADN":2,"Ours":0},
{"x":215,"GT":1,"FBP":19,"Extrapolation":0,"TV":9,"U-Net":0,"E2E U-Net":5,"CycleGAN":3,"ADN":1,"Ours":3},
{"x":216,"GT":0,"FBP":16,"Extrapolation":0,"TV":5,"U-Net":0,"E2E U-Net":6,"CycleGAN":0,"ADN":0,"Ours":7},
{"x":217,"GT":0.5,"FBP":19,"Extrapolation":0,"TV":9,"U-Net":0,"E2E U-Net":7,"CycleGAN":5,"ADN":1,"Ours":0},
{"x":218,"GT":1,"FBP":21,"Extrapolation":0,"TV":12,"U-Net":0,"E2E U-Net":9,"CycleGAN":12,"ADN":5,"Ours":0},
{"x":219,"GT":2,"FBP":22,"Extrapolation":0,"TV":15,"U-Net":1,"E2E U-Net":9,"CycleGAN":18,"ADN":8,"Ours":1},
{"x":220,"GT":1,"FBP":21,"Extrapolation":0,"TV":12,"U-Net":0,"E2E U-Net":6,"CycleGAN":16,"ADN":5,"Ours":0},
{"x":221,"GT":1,"FBP":22,"Extrapolation":0,"TV":9,"U-Net":0,"E2E U-Net":5,"CycleGAN":8,"ADN":2,"Ours":1},
{"x":222,"GT":1,"FBP":20,"Extrapolation":0,"TV":13,"U-Net":0,"E2E U-Net":4,"CycleGAN":6,"ADN":2,"Ours":4},
{"x":223,"GT":2,"FBP":22,"Extrapolation":0,"TV":16,"U-Net":1,"E2E U-Net":4,"CycleGAN":5,"ADN":5,"Ours":4},
{"x":224,"GT":1,"FBP":23,"Extrapolation":0,"TV":17,"U-Net":0,"E2E U-Net":5,"CycleGAN":6,"ADN":5,"Ours":3},
{"x":225,"GT":1,"FBP":22,"Extrapolation":0,"TV":16,"U-Net":0,"E2E U-Net":4,"CycleGAN":9,"ADN":3,"Ours":2},
{"x":226,"GT":1,"FBP":23,"Extrapolation":0,"TV":14,"U-Net":0,"E2E U-Net":4,"CycleGAN":9,"ADN":3,"Ours":4},
{"x":227,"GT":1,"FBP":22,"Extrapolation":0,"TV":12,"U-Net":0,"E2E U-Net":3,"CycleGAN":5,"ADN":1,"Ours":4},
{"x":228,"GT":0.5,"FBP":22,"Extrapolation":0,"TV":13,"U-Net":0,"E2E U-Net":2,"CycleGAN":2,"ADN":0.5,"Ours":0},
{"x":229,"GT":0,"FBP":23,"Extrapolation":0,"TV":14,"U-Net":0,"E2E U-Net":2,"CycleGAN":2,"ADN":0.5,"Ours":0},
{"x":230,"GT":0,"FBP":23,"Extrapolation":0,"TV":14,"U-Net":0,"E2E U-Net":2,"CycleGAN":4,"ADN":1,"Ours":0},
{"x":231,"GT":1,"FBP":26,"Extrapolation":0,"TV":14,"U-Net":0,"E2E U-Net":3,"CycleGAN":4,"ADN":2,"Ours":0},
{"x":232,"GT":1,"FBP":27,"Extrapolation":0,"TV":16,"U-Net":0,"E2E U-Net":3,"CycleGAN":4,"ADN":3,"Ours":1},
{"x":233,"GT":2,"FBP":27,"Extrapolation":0,"TV":12,"U-Net":1,"E2E U-Net":4,"CycleGAN":6,"ADN":7,"Ours":2},
{"x":234,"GT":3,"FBP":31,"Extrapolation":0,"TV":15,"U-Net":2,"E2E U-Net":9,"CycleGAN":9,"ADN":15,"Ours":4.5},
{"x":235,"GT":9,"FBP":33,"Extrapolation":1,"TV":24,"U-Net":7,"E2E U-Net":16,"CycleGAN":7,"ADN":18,"Ours":9},
{"x":236,"GT":15,"FBP":42,"Extrapolation":1,"TV":34,"U-Net":11,"E2E U-Net":20,"CycleGAN":0.5,"ADN":18,"Ours":14},
{"x":237,"GT":20,"FBP":50,"Extrapolation":3,"TV":34,"U-Net":21,"E2E U-Net":22,"CycleGAN":11,"ADN":27,"Ours":22},
{"x":238,"GT":15,"FBP":47,"Extrapolation":3,"TV":32,"U-Net":16,"E2E U-Net":20,"CycleGAN":14,"ADN":20,"Ours":22},
{"x":239,"GT":6,"FBP":40,"Extrapolation":0,"TV":31,"U-Net":4,"E2E U-Net":11,"CycleGAN":2,"ADN":5,"Ours":13},
{"x":240,"GT":2,"FBP":35,"Extrapolation":0,"TV":19,"U-Net":0,"E2E U-Net":8,"CycleGAN":7,"ADN":5,"Ours":5},
{"x":241,"GT":3,"FBP":37,"Extrapolation":0,"TV":24,"U-Net":2,"E2E U-Net":10,"CycleGAN":11,"ADN":5,"Ours":7},
{"x":242,"GT":5,"FBP":44,"Extrapolation":0,"TV":29,"U-Net":4,"E2E U-Net":11,"CycleGAN":10,"ADN":10,"Ours":10},
{"x":243,"GT":6,"FBP":44,"Extrapolation":0,"TV":29,"U-Net":5,"E2E U-Net":10,"CycleGAN":9,"ADN":12,"Ours":9},
{"x":244,"GT":4,"FBP":42,"Extrapolation":0,"TV":26,"U-Net":4,"E2E U-Net":10,"CycleGAN":9,"ADN":15,"Ours":9},
{"x":245,"GT":4,"FBP":48,"Extrapolation":0,"TV":25,"U-Net":4,"E2E U-Net":11,"CycleGAN":10,"ADN":9,"Ours":9},
{"x":246,"GT":4,"FBP":48,"Extrapolation":0,"TV":27,"U-Net":4,"E2E U-Net":12,"CycleGAN":7,"ADN":7,"Ours":10},
{"x":247,"GT":3,"FBP":46,"Extrapolation":0,"TV":31,"U-Net":3,"E2E U-Net":9,"CycleGAN":5,"ADN":10,"Ours":6},
{"x":248,"GT":4,"FBP":49,"Extrapolation":0,"TV":30,"U-Net":3,"E2E U-Net":7,"CycleGAN":11,"ADN":5,"Ours":6},
{"x":249,"GT":2,"FBP":50,"Extrapolation":0,"TV":25,"U-Net":2,"E2E U-Net":8,"CycleGAN":5,"ADN":3,"Ours":3},
{"x":250,"GT":3,"FBP":55,"Extrapolation":5,"TV":39,"U-Net":3,"E2E U-Net":9,"CycleGAN":3,"ADN":7,"Ours":6},
{"x":251,"GT":4,"FBP":58,"Extrapolation":6,"TV":32,"U-Net":4,"E2E U-Net":11,"CycleGAN":15,"ADN":9,"Ours":6},
{"x":252,"GT":5,"FBP":60,"Extrapolation":3,"TV":27,"U-Net":4,"E2E U-Net":10,"CycleGAN":20,"ADN":8,"Ours":6},
{"x":253,"GT":3,"FBP":64,"Extrapolation":2,"TV":44,"U-Net":2,"E2E U-Net":9,"CycleGAN":26,"ADN":10,"Ours":5},
{"x":254,"GT":5,"FBP":67,"Extrapolation":3,"TV":42,"U-Net":3,"E2E U-Net":10,"CycleGAN":44,"ADN":15,"Ours":4},
{"x":255,"GT":8,"FBP":69,"Extrapolation":5,"TV":50,"U-Net":8,"E2E U-Net":15,"CycleGAN":67,"ADN":35,"Ours":15},
{"x":256,"GT":60,"FBP":125,"Extrapolation":55,"TV":150,"U-Net":56,"E2E U-Net":67,"CycleGAN":117,"ADN":100,"Ours":59},
{"x":257,"GT":165,"FBP":230,"Extrapolation":160,"TV":235,"U-Net":160,"E2E U-Net":165,"CycleGAN":177,"ADN":185,"Ours":160},
{"x":258,"GT":225,"FBP":255,"Extrapolation":202,"TV":245,"U-Net":222,"E2E U-Net":220,"CycleGAN":215,"ADN":191,"Ours":215},
{"x":259,"GT":212,"FBP":255,"Extrapolation":194,"TV":225,"U-Net":210,"E2E U-Net":205,"CycleGAN":205,"ADN":177,"Ours":195},
{"x":260,"GT":182,"FBP":255,"Extrapolation":170,"TV":207,"U-Net":178,"E2E U-Net":175,"CycleGAN":175,"ADN":160,"Ours":177},
{"x":261,"GT":158,"FBP":255,"Extrapolation":143,"TV":202,"U-Net":153,"E2E U-Net":154,"CycleGAN":155,"ADN":143,"Ours":159},
{"x":262,"GT":155,"FBP":255,"Extrapolation":135,"TV":197,"U-Net":152,"E2E U-Net":152,"CycleGAN":138,"ADN":133,"Ours":156},
{"x":263,"GT":153,"FBP":255,"Extrapolation":145,"TV":206,"U-Net":150,"E2E U-Net":151,"CycleGAN":148,"ADN":126,"Ours":153},
{"x":264,"GT":160,"FBP":255,"Extrapolation":153,"TV":215,"U-Net":160,"E2E U-Net":158,"CycleGAN":157,"ADN":143,"Ours":160},
{"x":265,"GT":208,"FBP":255,"Extrapolation":187,"TV":215,"U-Net":205,"E2E U-Net":200,"CycleGAN":174,"ADN":153,"Ours":193},
{"x":266,"GT":203,"FBP":255,"Extrapolation":170,"TV":205,"U-Net":197,"E2E U-Net":199,"CycleGAN":166,"ADN":145,"Ours":183},
{"x":267,"GT":172,"FBP":255,"Extrapolation":150,"TV":190,"U-Net":168,"E2E U-Net":170,"CycleGAN":179,"ADN":135,"Ours":155},
{"x":268,"GT":127,"FBP":255,"Extrapolation":112,"TV":187,"U-Net":127,"E2E U-Net":137,"CycleGAN":153,"ADN":125,"Ours":131},
{"x":269,"GT":125,"FBP":255,"Extrapolation":119,"TV":198,"U-Net":126,"E2E U-Net":137,"CycleGAN":143,"ADN":123,"Ours":131}
]},
"transform": [{"fold": ["GT","FBP","Extrapolation","TV","U-Net","E2E U-Net","CycleGAN","ADN","Ours"], "as": ["series","value"]}],
"encoding": {
 "x": {"field": "x", "type": "quantitative", "scale": {"domain": [0, 269.4], "nice": false, "zero": false}, "axis": null},
 "y": {"field": "value", "type": "quantitative", "scale": {"domain": [0, 260], "nice": false}, "axis": null}
},
"layer": [
{"transform": [{"filter": "datum.series == 'GT'"}], "mark": {"type": "line", "color": "#000000", "strokeWidth": 2.8},
 "encoding": {
 "x": {"field": "x", "type": "quantitative", "scale": {"domain": [0, 269.4], "nice": false, "zero": false},
  "axis": {"orient": "bottom", "values": [0,25,50,75,100,125,150,175,200,225,250], "tickSize": -27, "tickWidth": 1.3, "tickColor": "#262626", "domainColor": "#262626", "domainWidth": 1.5, "grid": true, "gridColor": "#dfdfdf", "gridWidth": 1.2, "labelFont": "Liberation Sans", "labelFontSize": 25, "labelColor": "#262626", "labelPadding": 49, "labelFlush": false, "labelOverlap": false, "title": "Position of the plot", "titleFont": "Liberation Sans", "titleFontSize": 27, "titleFontWeight": "normal", "titleColor": "#262626", "titleX": 1424, "titleY": 64, "titleBaseline": "middle", "titleAlign": "center"}},
 "y": {"field": "value", "type": "quantitative", "scale": {"domain": [0, 260], "nice": false},
  "axis": {"orient": "left", "values": [0,25,50,75,100,125,150,175,200,225,250], "tickSize": -27, "tickWidth": 1.3, "tickColor": "#262626", "domainColor": "#262626", "domainWidth": 1.5, "grid": true, "gridColor": "#dfdfdf", "gridWidth": 1.2, "labelFont": "Liberation Sans", "labelFontSize": 25, "labelColor": "#262626", "labelPadding": 39, "labelOverlap": false, "title": "Grayscale value", "titleFont": "Liberation Sans", "titleFontSize": 27, "titleFontWeight": "normal", "titleColor": "#262626", "titleX": -78, "titleY": 749, "titleAngle": -90, "titleBaseline": "middle", "titleAlign": "center"}}
 }},
{"transform": [{"filter": "datum.series == 'GT' && (datum.x - 1) % 5 == 0"}], "mark": {"type": "point", "shape": "M-1,-1L1,1M-1,1L1,-1", "size": 100, "filled": false, "color": "#000000", "strokeWidth": 2.5, "opacity": 1}},
{"transform": [{"filter": "datum.series == 'FBP'"}], "mark": {"type": "line", "color": "#8c3c3c", "strokeWidth": 1.6}},
{"transform": [{"filter": "datum.series == 'Extrapolation'"}], "mark": {"type": "line", "color": "#33c033", "strokeWidth": 1.6}},
{"transform": [{"filter": "datum.series == 'TV'"}], "mark": {"type": "line", "color": "#aa9c8c", "strokeWidth": 1.6}},
{"transform": [{"filter": "datum.series == 'U-Net'"}], "mark": {"type": "line", "color": "#00ffff", "strokeWidth": 1.8}},
{"transform": [{"filter": "datum.series == 'U-Net' && (datum.x - 1) % 5 == 0"}], "mark": {"type": "point", "shape": "triangle-right", "size": 420, "filled": false, "color": "#00ffff", "strokeWidth": 2, "opacity": 1}},
{"transform": [{"filter": "datum.series == 'E2E U-Net'"}], "mark": {"type": "line", "color": "#fa8072", "strokeWidth": 1.6}},
{"transform": [{"filter": "datum.series == 'E2E U-Net' && (datum.x - 1) % 5 == 0"}], "mark": {"type": "point", "shape": "M0,-1.15L0.85,0L0,1.15L-0.85,0Z", "size": 260, "filled": false, "color": "#fa8072", "strokeWidth": 1.8, "opacity": 1}},
{"transform": [{"filter": "datum.series == 'CycleGAN'"}], "mark": {"type": "line", "color": "#0000ff", "strokeWidth": 2}},
{"transform": [{"filter": "datum.series == 'CycleGAN' && (datum.x - 1) % 5 == 0"}], "mark": {"type": "point", "shape": "triangle-up", "size": 420, "filled": false, "color": "#0000ff", "strokeWidth": 2, "opacity": 1}},
{"transform": [{"filter": "datum.series == 'ADN'"}], "mark": {"type": "line", "color": "#000000", "strokeWidth": 2.6, "strokeDash": [18, 11]}},
{"transform": [{"filter": "datum.series == 'Ours'"}], "mark": {"type": "line", "color": "#ff0000", "strokeWidth": 4.5}},
{"transform": [{"filter": "datum.series == 'Ours' && (datum.x - 1) % 5 == 0"}], "mark": {"type": "point", "shape": "M0,-1L0.235,-0.324L0.951,-0.309L0.38,0.124L0.588,0.809L0,0.4L-0.588,0.809L-0.38,0.124L-0.951,-0.309L-0.235,-0.324Z", "size": 650, "filled": true, "color": "#ff0000", "opacity": 1}},
{
 "transform": [{"filter": "datum.x < 0"}],
 "mark": {"type": "point", "filled": false, "opacity": 1},
 "encoding": {
  "x": {"field": "x", "type": "quantitative", "scale": {"domain": [0, 269.4], "nice": false, "zero": false},
   "axis": {"orient": "top", "values": [0,25,50,75,100,125,150,175,200,225,250], "tickSize": -27, "tickWidth": 1.3, "tickColor": "#262626", "domain": false, "labels": false, "grid": false, "title": null}},
  "y": {"field": "value", "type": "quantitative", "scale": {"domain": [0, 260], "nice": false},
   "axis": {"orient": "right", "values": [0,25,50,75,100,125,150,175,200,225,250], "tickSize": -27, "tickWidth": 1.3, "tickColor": "#262626", "domain": false, "labels": false, "grid": false, "title": null}},
  "color": {"field": "series", "type": "nominal", "scale": {"domain": ["GT","FBP","Extrapolation","TV","U-Net","E2E U-Net","CycleGAN","ADN","Ours"], "range": ["#000000","#8c3c3c","#33c033","#aa9c8c","#00ffff","#fa8072","#0000ff","#000000","#ff0000"]},
   "legend": {"title": null, "orient": "top-right", "offset": 20, "fillColor": "white", "strokeColor": "#262626", "padding": 7, "labelFont": "Liberation Sans", "labelFontSize": 23, "labelColor": "#000000", "labelLimit": 0, "labelOffset": 58, "symbolSize": 576, "rowPadding": 4.4, "symbolOpacity": 1}},
  "shape": {"field": "series", "type": "nominal", "scale": {"domain": ["GT","FBP","Extrapolation","TV","U-Net","E2E U-Net","CycleGAN","ADN","Ours"], "range": [
    "M-1,0H5.5M1.83,-0.42L2.67,0.42M1.83,0.42L2.67,-0.42",
    "M-1,0H5.5",
    "M-1,0H5.5",
    "M-1,0H5.5",
    "M-1,0H5.5M1.7,-0.92L3.22,0L1.7,0.92Z",
    "M-1,0H5.5M2.25,-0.75L2.87,0L2.25,0.75L1.63,0Z",
    "M-1,0H5.5M2.25,-0.75L3.17,0.71L1.33,0.71Z",
    "M-1,0H0.28M1.69,0H2.97M4.1,0H5.5",
    "M-1,0H5.5M2.25,-1.04L2.497,-0.34L3.239,-0.321L2.649,0.13L2.861,0.841L2.25,0.42L1.639,0.841L1.851,0.13L1.261,-0.321L2.003,-0.34Z"]}},
  "fill": {"field": "series", "type": "nominal", "scale": {"domain": ["GT","FBP","Extrapolation","TV","U-Net","E2E U-Net","CycleGAN","ADN","Ours"], "range": ["transparent","transparent","transparent","transparent","transparent","transparent","transparent","transparent","#ff0000"]}},
  "strokeWidth": {"field": "series", "type": "nominal", "scale": {"domain": ["GT","FBP","Extrapolation","TV","U-Net","E2E U-Net","CycleGAN","ADN","Ours"], "range": [2.8,1.6,1.6,1.6,1.8,1.6,2,2.6,4]}}
 }
}
],
"resolve": {"axis": {"x": "independent", "y": "independent"}}
}
